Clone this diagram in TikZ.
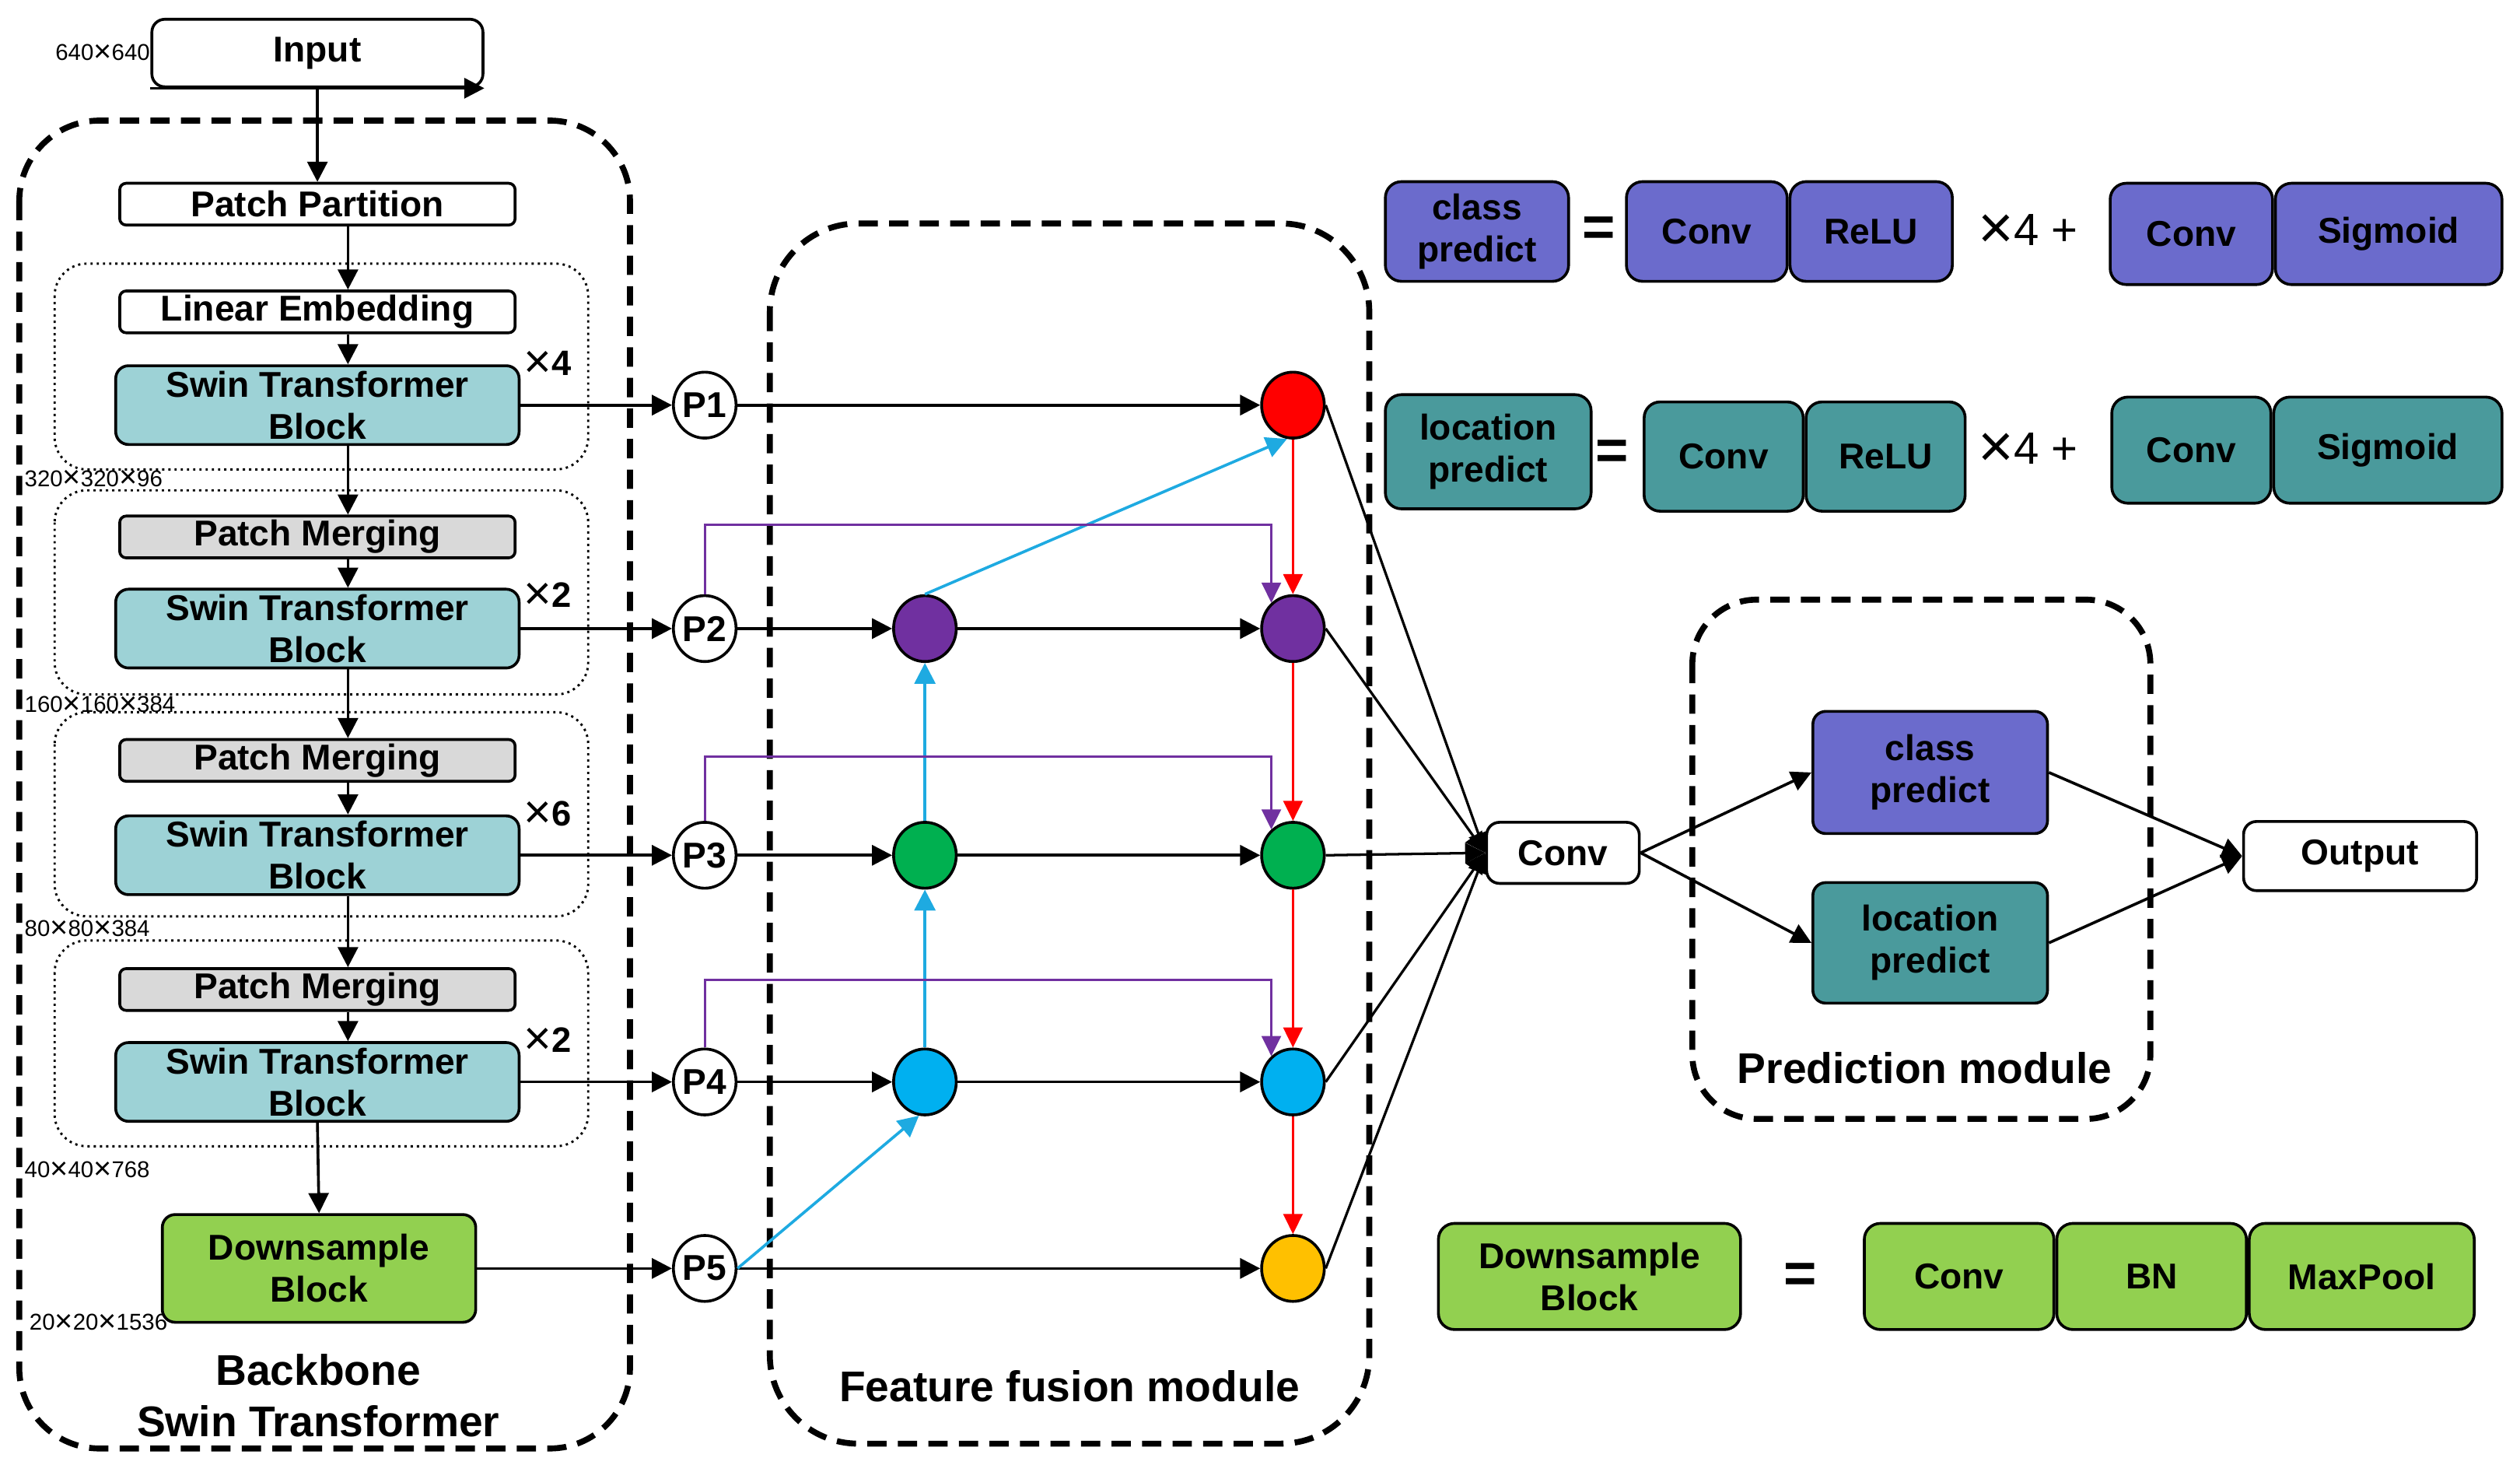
\documentclass[tikz,border=0pt]{standalone}
\usepackage{fontspec}
\setmainfont{Liberation Sans}
\usetikzlibrary{positioning,calc,arrows.meta,shapes.geometric}

\definecolor{swin}{RGB}{157,210,214}
\definecolor{merge}{RGB}{217,217,217}
\definecolor{classc}{RGB}{107,107,204}
\definecolor{locc}{RGB}{74,154,156}
\definecolor{downc}{RGB}{146,208,80}
\definecolor{fred}{RGB}{255,0,0}
\definecolor{fpurple}{RGB}{112,48,160}
\definecolor{fgreen}{RGB}{0,176,80}
\definecolor{fblue}{RGB}{0,176,240}
\definecolor{forange}{RGB}{255,192,0}
\definecolor{sky}{RGB}{30,170,225}

\newcommand\crossx{\raisebox{-0.12ex}{\scalebox{1.35}{\mdseries ×}}}

\begin{document}
\begin{tikzpicture}[x=0.2mm, y=-0.2mm,
    font=\bfseries\fontsize{12.7}{14.8}\selectfont,
    blk/.style={draw, line width=1pt, rounded corners=1.6mm, inner sep=0pt, align=center},
    barblk/.style={blk, rounded corners=0.8mm, minimum width=49.2mm, minimum height=5.2mm},
    swinblk/.style={blk, fill=swin, minimum width=50.2mm, minimum height=9.8mm},
    keyblk/.style={blk, rounded corners=2mm, minimum height=12.4mm},
    pnode/.style={ellipse, draw, line width=1pt, minimum width=7.8mm, minimum height=8.2mm, inner sep=0pt},
    fnode/.style={ellipse, draw, line width=1pt, minimum width=7.8mm, minimum height=8.2mm, inner sep=0pt, fill=#1},
    arr/.style={-{Triangle[length=2.5mm,width=2.5mm]}, line width=1pt},
    carr/.style={arr, draw=sky, -{Triangle[length=2.6mm,width=2.6mm,fill=sky]}},
    parr/.style={draw=fpurple, line width=0.8pt, -{Triangle[length=2.5mm,width=2.4mm,fill=fpurple]}},
    rarr/.style={draw=fred, line width=0.8pt, -{Triangle[length=2.5mm,width=2.4mm,fill=fred]}},
    modbox/.style={draw, line width=2.1pt, dash pattern=on 2.4mm off 1.4mm},
    grp/.style={draw, line width=0.8pt, dash pattern=on 0.8pt off 1.4pt, rounded corners=4mm},
    dim/.style={font=\mdseries\fontsize{8.1}{10}\selectfont, inner sep=0pt},
    rep/.style={font=\bfseries\fontsize{12.5}{14}\selectfont, inner sep=1pt, anchor=west},
    eq/.style={font=\bfseries\fontsize{20}{22}\selectfont, inner sep=0pt},
    times/.style={font=\mdseries\fontsize{16}{18}\selectfont, inner sep=0pt},
    modtitle/.style={font=\bfseries\fontsize{15.2}{18.2}\selectfont, align=center, inner sep=0pt}]
  \useasboundingbox (0,0) rectangle (1568,915.6);

  % backbone
  \draw[modbox, rounded corners=10mm] (12,75) rectangle (392,901);
  \foreach \ya/\yb in {164/292, 305/432, 443/570, 585/713}
    \draw[grp] (34,\ya) rectangle (366,\yb);

  \node[blk, minimum width=41.2mm, minimum height=8.4mm] (input) at (197.5,33) {Input};
  \node[barblk] (part) at (197.5,127) {Patch Partition};
  \node[barblk] (embed) at (197.5,194) {Linear Embedding};
  \node[swinblk] (swin1) at (197.5,252) {Swin Transformer\\Block};
  \node[barblk, fill=merge] (merge1) at (197.5,334) {Patch Merging};
  \node[swinblk] (swin2) at (197.5,391) {Swin Transformer\\Block};
  \node[barblk, fill=merge] (merge2) at (197.5,473) {Patch Merging};
  \node[swinblk] (swin3) at (197.5,532) {Swin Transformer\\Block};
  \node[barblk, fill=merge] (merge3) at (197.5,615.5) {Patch Merging};
  \node[swinblk] (swin4) at (197.5,673) {Swin Transformer\\Block};
  \node[blk, fill=downc, minimum width=39mm, minimum height=13.4mm] (down) at (198.5,789) {Downsample\\Block};

  \node[rep] (rep1) at (swin1.north east) {\crossx4};
  \node[rep] (rep2) at ([yshift=-1mm]swin2.north east) {\crossx2};
  \node[rep] (rep3) at (swin3.north east) {\crossx6};
  \node[rep] (rep4) at (swin4.north east) {\crossx2};

  \node[dim, anchor=east] (d640) at (input.west) {640\crossx640};
  \node[dim, anchor=west] (d320) at (15,298) {320\crossx320\crossx96};
  \node[dim, anchor=west] (d160) at (15,438.5) {160\crossx160\crossx384};
  \node[dim, anchor=west] (d80) at (15,578) {80\crossx80\crossx384};
  \node[dim, anchor=west] (d40) at (15,728) {40\crossx40\crossx768};
  \node[dim, anchor=west] (d20) at (18,823) {20\crossx20\crossx1536};
  \node[modtitle] (bbtitle) at (198,868) {Backbone\\Swin Transformer};

  \draw[arr] (input.south west) -- (input.south east);
  \draw[arr] (input.south) -- (part.north);
  \foreach \a/\b in {part/embed, embed/swin1, swin1/merge1, merge1/swin2,
                     swin2/merge2, merge2/swin3, swin3/merge3, merge3/swin4}
    \draw[arr] ([xshift=3.8mm]\a.south) -- ([xshift=3.8mm]\b.north);
  \draw[arr] (swin4.south) -- (down.north);

  % feature fusion
  \draw[modbox, rounded corners=11mm] (479,139) rectangle (852,898);
  \node[modtitle] (fftitle) at (665.5,862.5) {Feature fusion module};

  \foreach \i/\y in {1/252, 2/391, 3/532, 4/673, 5/789}
    \node[pnode] (p\i) at (438.5,\y) {P\i};
  \node[fnode=fpurple] (mp) at (575.5,391) {};
  \node[fnode=fgreen] (mg) at (575.5,532) {};
  \node[fnode=fblue] (mb) at (575.5,673) {};
  \node[fnode=fred] (rr) at (804.5,252) {};
  \node[fnode=fpurple] (rp) at (804.5,391) {};
  \node[fnode=fgreen] (rg) at (804.5,532) {};
  \node[fnode=fblue] (rb) at (804.5,673) {};
  \node[fnode=forange] (ro) at (804.5,789) {};

  \draw[arr] (swin1) -- (p1);
  \draw[arr] (swin2) -- (p2);
  \draw[arr] (swin3) -- (p3);
  \draw[arr] (swin4) -- (p4);
  \draw[arr] (down) -- (p5);

  \draw[arr] (p1) -- (rr);
  \draw[arr] (p2) -- (mp);
  \draw[arr] (mp) -- (rp);
  \draw[arr] (p3) -- (mg);
  \draw[arr] (mg) -- (rg);
  \draw[arr] (p4) -- (mb);
  \draw[arr] (mb) -- (rb);
  \draw[arr] (p5) -- (ro);

  \draw[carr] (mb) -- (mg);
  \draw[carr] (mg) -- (mp);
  \draw[carr] (mp.north) -- (rr.-100);
  \draw[carr] (p5.east) -- (mb.-100);

  \draw[parr] (p2.north) -- ++(0,-43) -| (rp.130);
  \draw[parr] (p3.north) -- ++(0,-40) -| (rg.130);
  \draw[parr] (p4.north) -- ++(0,-42) -| (rb.130);

  \draw[rarr] (rr) -- (rp);
  \draw[rarr] (rp) -- (rg);
  \draw[rarr] (rg) -- (rb);
  \draw[rarr] (rb) -- (ro);

  % prediction
  \node[blk, minimum width=19mm, minimum height=7.6mm] (conv) at (972.5,530.5) {Conv};
  \foreach \n in {rr, rp, rg, rb, ro}
    \draw[arr, line width=0.9pt] (\n.east) -- (conv.west);
  \draw[modbox, rounded corners=8mm] (1053,373) rectangle (1338,696);
  \node[blk, fill=classc, minimum width=29.2mm, minimum height=15.2mm] (cls) at (1201,480.5) {class\\predict};
  \node[blk, fill=locc, minimum width=29.2mm, minimum height=15mm] (loc) at (1201,586.5) {location\\predict};
  \node[blk, minimum width=29mm, minimum height=8.6mm] (out) at (1468.5,532.5) {Output};
  \node[modtitle] (pmtitle) at (1197.5,664.5) {Prediction module};
  \draw[arr] (conv.east) -- (cls.west);
  \draw[arr] (conv.east) -- (loc.west);
  \draw[arr] (cls.east) -- (out.west);
  \draw[arr] (loc.east) -- (out.west);

  % legends
  \node[keyblk, fill=classc, minimum width=22.8mm] (clskey) at (919,144) {class\\predict};
  \node[eq] (eq1) at (995,144) {=};
  \node[keyblk, fill=classc, minimum width=20mm] (conva) at (1062,144) {Conv};
  \node[keyblk, fill=classc, minimum width=20.2mm, right=0pt of conva] (relua) {ReLU};
  \node[times] (times1) at (1262,144) {\crossx4 +};
  \node[keyblk, fill=classc, minimum width=20.2mm, minimum height=12.6mm] (convb) at (1363.5,145.5) {Conv};
  \node[keyblk, fill=classc, minimum width=28.2mm, minimum height=12.6mm, right=0pt of convb] (sigb) {Sigmoid};

  \node[keyblk, fill=locc, minimum width=25.6mm, minimum height=14.2mm] (lockey) at (926,281) {location\\predict};
  \node[eq] (eq2) at (1003,283) {=};
  \node[keyblk, fill=locc, minimum width=19.8mm, minimum height=13.6mm] (convc) at (1072.5,284) {Conv};
  \node[keyblk, fill=locc, minimum width=19.8mm, minimum height=13.6mm, right=0pt of convc] (reluc) {ReLU};
  \node[times] (times2) at (1262,280) {\crossx4 +};
  \node[keyblk, fill=locc, minimum width=19.8mm, minimum height=13.2mm] (convd) at (1363.5,280) {Conv};
  \node[keyblk, fill=locc, minimum width=28.4mm, minimum height=13.2mm, right=0pt of convd] (sigd) {Sigmoid};

  \node[keyblk, fill=downc, minimum width=37.6mm, minimum height=13.2mm] (downkey) at (989,794) {Downsample\\Block};
  \node[eq] (eq3) at (1120,795) {=};
  \node[keyblk, fill=downc, minimum width=23.6mm, minimum height=13.2mm] (conve) at (1219,794) {Conv};
  \node[keyblk, fill=downc, minimum width=23.6mm, minimum height=13.2mm, right=0pt of conve] (bn) {BN};
  \node[keyblk, fill=downc, minimum width=28mm, minimum height=13.2mm, right=0pt of bn] (pool) {MaxPool};
\end{tikzpicture}
\end{document}
